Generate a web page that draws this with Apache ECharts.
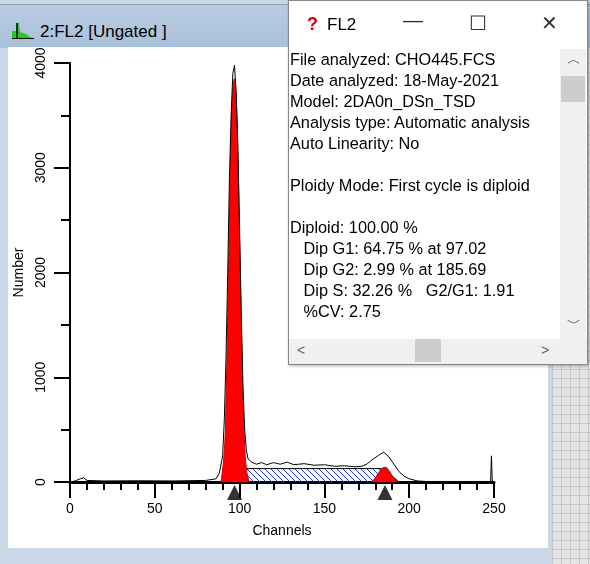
<!DOCTYPE html>
<html>
<head>
<meta charset="utf-8">
<script src="https://cdn.jsdelivr.net/npm/echarts@6/dist/echarts.min.js"></script>
<style>
  body { margin: 0; width: 590px; height: 564px; overflow: hidden; position: relative;
         background: #c9d7e6; font-family: "Liberation Sans", Arial, sans-serif; }
  #titlebar { position: absolute; left: 0; top: 4px; width: 590px; height: 43px;
              background: linear-gradient(#b9cde2, #a8c0da); border-top: 1px solid #8aa; }
  #titlebar span { position: absolute; left: 40px; top: 17px; font-size: 17px; color: #000; }
  #icon { position: absolute; left: 12px; top: 18px; width: 22px; height: 16px; }
  #grid { position: absolute; left: 552px; top: 0; width: 38px; height: 564px;
          background-color: #e4e4e4;
          background-image: linear-gradient(#c8c8c8 1px, transparent 1px),
                            linear-gradient(90deg, #c8c8c8 1px, transparent 1px);
          background-size: 9px 9px; }
  #white { position: absolute; left: 8px; top: 47px; width: 540px; height: 501px; background: #fff; }
  #chart { position: absolute; left: 0; top: 0; width: 590px; height: 564px; }
  #info { position: absolute; left: 288px; top: 0; width: 298px; height: 363px;
          background: #fff; border: 1px solid #888; box-shadow: 1px 1px 3px rgba(0,0,0,0.3); }
  #info .head { position: absolute; left: 0; top: 0; width: 298px; height: 48px; }
  #info .head .q { position: absolute; left: 18px; top: 13px; color: #d00; font-weight: bold; font-size: 18px; }
  #info .head .t { position: absolute; left: 38px; top: 14px; font-size: 17px; }
  #info .btn { position: absolute; top: 10px; font-size: 20px; color: #333; }
  #info pre { position: absolute; left: 1px; top: 48px; margin: 0; font-family: inherit;
              font-size: 16.3px; line-height: 21px; }
  #vs { position: absolute; left: 271px; top: 48px; width: 26px; height: 290px; background: #f0f0f0; }
  #vs .thumb { position: absolute; left: 1px; top: 27px; width: 24px; height: 26px; background: #cdcdcd; }
  #hs { position: absolute; left: 0; top: 338px; width: 298px; height: 25px; background: #f0f0f0; }
  #hs .thumb { position: absolute; left: 126px; top: 0; width: 26px; height: 23px; background: #cdcdcd; }
  .arr { position: absolute; font-size: 14px; color: #606060; }
</style>
</head>
<body>
<div id="grid"></div>
<div id="titlebar">
  <svg id="icon" viewBox="0 0 22 16"><polygon points="0,16 0,8 4,8 5,0 7,0 8,9 14,11 18,14 22,16" fill="#1dd01d"/><line x1="5" y1="0" x2="5" y2="16" stroke="#000" stroke-width="1.5"/><line x1="0" y1="15.5" x2="22" y2="15.5" stroke="#000"/></svg>
  <span>2:FL2 [Ungated ]</span>
</div>
<div id="white"></div>
<div id="chart"></div>
<div id="info">
  <div class="head"><span class="q">?</span><span class="t">FL2</span>
    <span class="btn" style="left:114px;top:8px">—</span>
    <span class="btn" style="left:180px">☐</span>
    <span class="btn" style="left:252px">✕</span></div>
  <pre>File analyzed: CHO445.FCS
Date analyzed: 18-May-2021
Model: 2DA0n_DSn_TSD
Analysis type: Automatic analysis
Auto Linearity: No

Ploidy Mode: First cycle is diploid

Diploid: 100.00 %
   Dip G1: 64.75 % at 97.02
   Dip G2: 2.99 % at 185.69
   Dip S: 32.26 %   G2/G1: 1.91
   %CV: 2.75</pre>
  <div id="vs"><span class="arr" style="left:7px;top:2px">︿</span><div class="thumb"></div><span class="arr" style="left:7px;top:266px">﹀</span></div>
  <div id="hs"><span class="arr" style="left:8px;top:3px">&lt;</span><div class="thumb"></div><span class="arr" style="left:252px;top:3px">&gt;</span></div>
</div>
<script>
// raw histogram outline [channel, count]
var rawData = [[0,0],[3,10],[6,30],[8,40],[10,15],[20,10],[40,12],[60,10],[80,15],[86,30],[88,80],[90,250],[91,600],[92,1200],[93,2000],[94,2900],[95,3500],[96,3900],[97,3980],[98,3700],[99,3200],[100,2400],[101,1600],[102,900],[103,500],[104,300],[105,220],[107,190],[110,170],[113,185],[116,165],[120,185],[124,170],[128,190],[132,165],[138,175],[144,160],[150,165],[156,150],[162,155],[168,145],[172,150],[175,170],[178,210],[182,255],[185,285],[188,240],[191,170],[194,100],[197,55],[200,30],[205,10],[210,5],[248,5],[248.5,250],[249,0]];
// G1 fit
var g1Data = [[89,0],[91,300],[92,800],[93,1600],[94,2500],[95,3300],[96,3750],[97,3850],[98,3650],[99,3100],[100,2300],[101,1500],[102,800],[103,350],[104,130],[105,40],[106,0]];
// G2 fit
var g2Data = [[178,0],[180,40],[182,90],[184,130],[185.7,140],[188,110],[190,60],[192,20],[194,0]];
// S phase fit
var sData = [[91,0],[95,50],[99,100],[102,128],[185,128],[189,70],[194,0]];
// peak markers
var markers = [97.02, 185.69];

var pc = document.createElement('canvas');
pc.width = 6; pc.height = 6;
var cx = pc.getContext('2d');
cx.fillStyle = '#1f3fd8';
for (var i = 0; i < 6; i++) cx.fillRect(i, i, 1, 1);

var chart = echarts.init(document.getElementById('chart'));
chart.setOption({
  animation: false,
  grid: { left: 70, right: 96, top: 63, bottom: 82, containLabel: false, outerBoundsMode: 'none' },
  xAxis: {
    type: 'value', min: 0, max: 250, interval: 50,
    name: 'Channels', nameLocation: 'middle', nameGap: 42,
    nameTextStyle: { fontSize: 14, color: '#000', fontFamily: 'Liberation Sans' },
    axisLine: { lineStyle: { color: '#000', width: 3 } },
    axisTick: { inside: false, length: 16, lineStyle: { color: '#000', width: 2 } },
    minorTick: { show: true, splitNumber: 5, length: 8, lineStyle: { color: '#000', width: 2 } },
    axisLabel: { fontSize: 14, color: '#000', margin: 20, fontFamily: 'Liberation Sans' },
    splitLine: { show: false }
  },
  yAxis: {
    type: 'value', min: 0, max: 4000, interval: 1000,
    name: 'Number', nameLocation: 'middle', nameGap: 44, nameRotate: 90,
    nameTextStyle: { fontSize: 14, color: '#000', fontFamily: 'Liberation Sans' },
    axisLine: { show: true, lineStyle: { color: '#000', width: 2 } },
    axisTick: { length: 16, lineStyle: { color: '#000', width: 2 } },
    minorTick: { show: true, splitNumber: 2, length: 9, lineStyle: { color: '#000', width: 2 } },
    axisLabel: { fontSize: 14, color: '#000', rotate: 90, margin: 22, fontFamily: 'Liberation Sans',
                 formatter: function (v) { return String(v); } },
    splitLine: { show: false }
  },
  series: [
    { type: 'line', data: sData, symbol: 'none', z: 2,
      lineStyle: { color: '#000', width: 1 },
      areaStyle: { color: { image: pc, repeat: 'repeat' }, opacity: 1 } },
    { type: 'line', data: g1Data, symbol: 'none', smooth: true, z: 3,
      lineStyle: { color: '#c00', width: 1 }, areaStyle: { color: '#f00', opacity: 1 } },
    { type: 'line', data: g2Data, symbol: 'none', smooth: true, z: 3,
      lineStyle: { color: '#c00', width: 1 }, areaStyle: { color: '#f00', opacity: 1 } },
    { type: 'line', data: rawData, symbol: 'none', z: 4,
      lineStyle: { color: '#000', width: 1 } },
    { type: 'scatter', data: markers.map(function (m) { return [m, -100]; }),
      symbol: 'triangle', symbolSize: [15, 15], clip: false, z: 5,
      itemStyle: { color: '#000' } }
  ]
});
</script>
</body>
</html>
